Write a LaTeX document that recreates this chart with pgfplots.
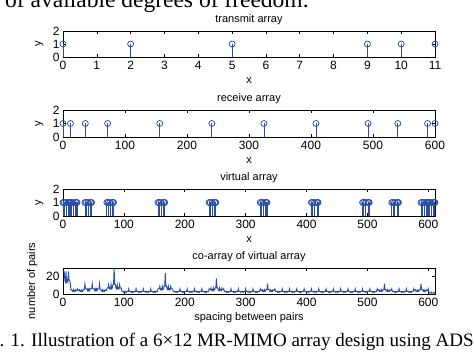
\documentclass[border=0pt]{standalone}
\usepackage{pgfplots}
\pgfplotsset{compat=1.18}
\usepackage{fontspec}
\setmainfont{Liberation Sans}
\newfontfamily\capfont{Liberation Serif}
\definecolor{mblue}{RGB}{40,78,165}
\pgfplotsset{
 mstyle/.style={
  scale only axis, width=372pt, anchor=south west,
  font=\fontsize{11}{13}\selectfont,
  /pgf/number format/assume math mode=true,
  axis line style={line width=0.8pt},
  tick style={black, line width=0.6pt},
  major tick length=3pt,
  every axis title/.style={at={(axis description cs:0.5,1)}, anchor=base, yshift=8.5pt, font=\fontsize{11}{13}\selectfont},
  every axis x label/.style={at={(axis description cs:0.5,0)}, anchor=base, yshift=-27pt},
  xticklabel style={yshift=-1pt, font=\fontsize{12}{14}\selectfont},
  yticklabel style={font=\fontsize{12}{14}\selectfont},
  ymin=0,
 },
 stemst/.style={mblue, ycomb, mark=o, mark size=3pt, line width=0.75pt, mark options={line width=0.75pt}},
}
\begin{document}
\begin{tikzpicture}[x=1pt,y=1pt]
\useasboundingbox (0,0) rectangle (474,351);
\clip (0,0) rectangle (474,351);
\node[anchor=base west, font=\capfont\fontsize{23.5}{26}\selectfont, inner sep=0] at (5,343) {of available degrees of freedom.};
\node[anchor=base west, font=\capfont\fontsize{19}{22}\selectfont, inner sep=0] at (-26,5) {Fig. 1. Illustration of a 6×12 MR-MIMO array design using ADS};

\begin{axis}[mstyle, at={(63pt,294pt)}, height=26pt, xmin=0, xmax=11, ymax=2,
  xtick={0,1,2,3,4,5,6,7,8,9,10,11}, ytick={0,1,2},
  title={transmit array}, xlabel={x}, ylabel={y},
  every axis y label/.style={at={(axis description cs:-0.059,0.5)}, rotate=90, anchor=base}]
\addplot[stemst] coordinates {(0,1)(2,1)(5,1)(9,1)(10,1)(11,1)};
\end{axis}

\begin{axis}[mstyle, at={(63pt,214pt)}, height=27pt, xmin=0, xmax=600, ymax=2,
  xtick={0,100,200,300,400,500,600}, ytick={0,1,2},
  title={receive array}, xlabel={x}, ylabel={y},
  every axis y label/.style={at={(axis description cs:-0.059,0.5)}, rotate=90, anchor=base}]
\addplot[stemst] coordinates {(0,1)(12,1)(36,1)(72,1)(156,1)(240,1)(324,1)(408,1)(492,1)(540,1)(588,1)(600,1)};
\end{axis}

\begin{axis}[mstyle, at={(63pt,135pt)}, height=27pt, xmin=0, xmax=611, ymax=2,
  xtick={0,100,200,300,400,500,600}, ytick={0,1,2},
  title={virtual array}, xlabel={x}, ylabel={y},
  every axis y label/.style={at={(axis description cs:-0.059,0.5)}, rotate=90, anchor=base}]
\addplot[stemst] coordinates {
(0,1)(2,1)(5,1)(9,1)(10,1)(11,1)
(12,1)(14,1)(17,1)(21,1)(22,1)(23,1)
(36,1)(38,1)(41,1)(45,1)(46,1)(47,1)
(72,1)(74,1)(77,1)(81,1)(82,1)(83,1)
(156,1)(158,1)(161,1)(165,1)(166,1)(167,1)
(240,1)(242,1)(245,1)(249,1)(250,1)(251,1)
(324,1)(326,1)(329,1)(333,1)(334,1)(335,1)
(408,1)(410,1)(413,1)(417,1)(418,1)(419,1)
(492,1)(494,1)(497,1)(501,1)(502,1)(503,1)
(540,1)(542,1)(545,1)(549,1)(550,1)(551,1)
(588,1)(590,1)(593,1)(597,1)(598,1)(599,1)
(600,1)(602,1)(605,1)(609,1)(610,1)(611,1)};
\end{axis}

\begin{axis}[mstyle, at={(63pt,57pt)}, height=26pt, xmin=0, xmax=611, ymax=30,
  xtick={0,100,200,300,400,500,600}, ytick={0,20},
  title={co-array of virtual array}, xlabel={spacing between pairs}, ylabel={number of pairs},
  every axis y label/.style={at={(axis description cs:-0.075,0.5)}, rotate=90, anchor=base}]
\addplot[mblue, line width=0.9pt] coordinates {
(1,26)(2,26)(3,16)(4,14)(5,26)(6,14)(7,16)(8,14)(9,26)(10,16)(11,16)
(12,12)(13,5)(14,5)(15,4)(16,3)(17,5)(18,3)(19,4)(20,3)(21,5)(22,4)(23,4)
(24,6)(25,4)(26,4)(27,5)(28,3)(29,4)(30,3)(31,5)(32,3)(33,4)(34,5)(35,5)
(36,12)(37,6)(38,6)(39,6)(40,4)(41,6)(42,4)(43,6)(44,4)(45,6)(46,6)(47,6)
(48,12)(49,6)(50,6)(51,6)(52,4)(53,6)(54,4)(55,6)(56,4)(57,6)(58,6)(59,6)
(60,12)(61,5)(62,5)(63,4)(64,3)(65,5)(66,3)(67,4)(68,3)(69,5)(70,4)(71,4)
(72,6)(73,7)(74,7)(75,11)(76,6)(77,7)(78,6)(79,11)(80,6)(81,7)(82,11)(83,11)
(84,30)(85,11)(86,11)(87,7)(88,6)(89,11)(90,6)(91,7)(92,6)(93,11)(94,7)(95,7)
(96,6)(97,3)(98,3)(99,3)(100,2)(101,3)(102,2)(103,3)(104,2)(105,3)(106,3)(107,3)
(108,6)(109,3)(110,3)(111,3)(112,2)(113,3)(114,2)(115,3)(116,2)(117,3)(118,3)(119,3)
(120,6)(121,3)(122,3)(123,3)(124,2)(125,3)(126,2)(127,3)(128,2)(129,3)(130,3)(131,3)
(132,6)(133,3)(134,3)(135,3)(136,2)(137,3)(138,2)(139,3)(140,2)(141,3)(142,3)(143,3)
(144,6)(145,3)(146,3)(147,3)(148,2)(149,3)(150,2)(151,3)(152,2)(153,3)(154,3)(155,3)
(156,6)(157,6)(158,6)(159,9)(160,5)(161,6)(162,5)(163,9)(164,5)(165,6)(166,9)(167,9)
(168,24)(169,9)(170,9)(171,6)(172,5)(173,9)(174,5)(175,6)(176,5)(177,9)(178,6)(179,6)
(180,6)(181,3)(182,3)(183,3)(184,2)(185,3)(186,2)(187,3)(188,2)(189,3)(190,3)(191,3)
(192,6)(193,3)(194,3)(195,3)(196,2)(197,3)(198,2)(199,3)(200,2)(201,3)(202,3)(203,3)
(204,6)(205,3)(206,3)(207,3)(208,2)(209,3)(210,2)(211,3)(212,2)(213,3)(214,3)(215,3)
(216,6)(217,3)(218,3)(219,3)(220,2)(221,3)(222,2)(223,3)(224,2)(225,3)(226,3)(227,3)
(228,6)(229,3)(230,3)(231,3)(232,2)(233,3)(234,2)(235,3)(236,2)(237,3)(238,3)(239,3)
(240,6)(241,5)(242,5)(243,7)(244,4)(245,5)(246,4)(247,7)(248,4)(249,5)(250,7)(251,7)
(252,18)(253,7)(254,7)(255,5)(256,4)(257,7)(258,4)(259,5)(260,4)(261,7)(262,5)(263,5)
(264,6)(265,3)(266,3)(267,3)(268,2)(269,3)(270,2)(271,3)(272,2)(273,3)(274,3)(275,3)
(276,6)(277,3)(278,3)(279,3)(280,2)(281,3)(282,2)(283,3)(284,2)(285,3)(286,3)(287,3)
(288,6)(289,3)(290,3)(291,3)(292,2)(293,3)(294,2)(295,3)(296,2)(297,3)(298,3)(299,3)
(300,6)(301,3)(302,3)(303,3)(304,2)(305,3)(306,2)(307,3)(308,2)(309,3)(310,3)(311,3)
(312,6)(313,3)(314,3)(315,3)(316,2)(317,3)(318,2)(319,3)(320,2)(321,3)(322,3)(323,3)
(324,6)(325,4)(326,4)(327,5)(328,3)(329,4)(330,3)(331,5)(332,3)(333,4)(334,5)(335,5)
(336,12)(337,5)(338,5)(339,4)(340,3)(341,5)(342,3)(343,4)(344,3)(345,5)(346,4)(347,4)
(348,6)(349,3)(350,3)(351,3)(352,2)(353,3)(354,2)(355,3)(356,2)(357,3)(358,3)(359,3)
(360,6)(361,3)(362,3)(363,3)(364,2)(365,3)(366,2)(367,3)(368,2)(369,3)(370,3)(371,3)
(372,6)(373,3)(374,3)(375,3)(376,2)(377,3)(378,2)(379,3)(380,2)(381,3)(382,3)(383,3)
(384,6)(385,3)(386,3)(387,3)(388,2)(389,3)(390,2)(391,3)(392,2)(393,3)(394,3)(395,3)
(396,6)(397,3)(398,3)(399,3)(400,2)(401,3)(402,2)(403,3)(404,2)(405,3)(406,3)(407,3)
(408,6)(409,3)(410,3)(411,3)(412,2)(413,3)(414,2)(415,3)(416,2)(417,3)(418,3)(419,3)
(420,6)(421,3)(422,3)(423,3)(424,2)(425,3)(426,2)(427,3)(428,2)(429,3)(430,3)(431,3)
(432,6)(433,3)(434,3)(435,3)(436,2)(437,3)(438,2)(439,3)(440,2)(441,3)(442,3)(443,3)
(444,6)(445,3)(446,3)(447,3)(448,2)(449,3)(450,2)(451,3)(452,2)(453,3)(454,3)(455,3)
(456,6)(457,3)(458,3)(459,3)(460,2)(461,3)(462,2)(463,3)(464,2)(465,3)(466,3)(467,3)
(468,6)(469,3)(470,3)(471,3)(472,2)(473,3)(474,2)(475,3)(476,2)(477,3)(478,3)(479,3)
(480,6)(481,3)(482,3)(483,3)(484,2)(485,3)(486,2)(487,3)(488,2)(489,3)(490,3)(491,3)
(492,6)(493,3)(494,3)(495,3)(496,2)(497,3)(498,2)(499,3)(500,2)(501,3)(502,3)(503,3)
(504,6)(505,3)(506,3)(507,3)(508,2)(509,3)(510,2)(511,3)(512,2)(513,3)(514,3)(515,3)
(516,6)(517,4)(518,4)(519,5)(520,3)(521,4)(522,3)(523,5)(524,3)(525,4)(526,5)(527,5)
(528,12)(529,5)(530,5)(531,4)(532,3)(533,5)(534,3)(535,4)(536,3)(537,5)(538,4)(539,4)
(540,6)(541,3)(542,3)(543,3)(544,2)(545,3)(546,2)(547,3)(548,2)(549,3)(550,3)(551,3)
(552,6)(553,3)(554,3)(555,3)(556,2)(557,3)(558,2)(559,3)(560,2)(561,3)(562,3)(563,3)
(564,6)(565,3)(566,3)(567,3)(568,2)(569,3)(570,2)(571,3)(572,2)(573,3)(574,3)(575,3)
(576,6)(577,4)(578,4)(579,5)(580,3)(581,4)(582,3)(583,5)(584,3)(585,4)(586,5)(587,5)
(588,12)(589,5)(590,5)(591,4)(592,3)(593,5)(594,3)(595,4)(596,3)(597,5)(598,4)(599,4)
(600,6)(601,2)(602,2)(603,1)(604,1)(605,2)(606,1)(607,1)(608,1)(609,2)(610,1)(611,1)};
\end{axis}
\end{tikzpicture}
\end{document}
